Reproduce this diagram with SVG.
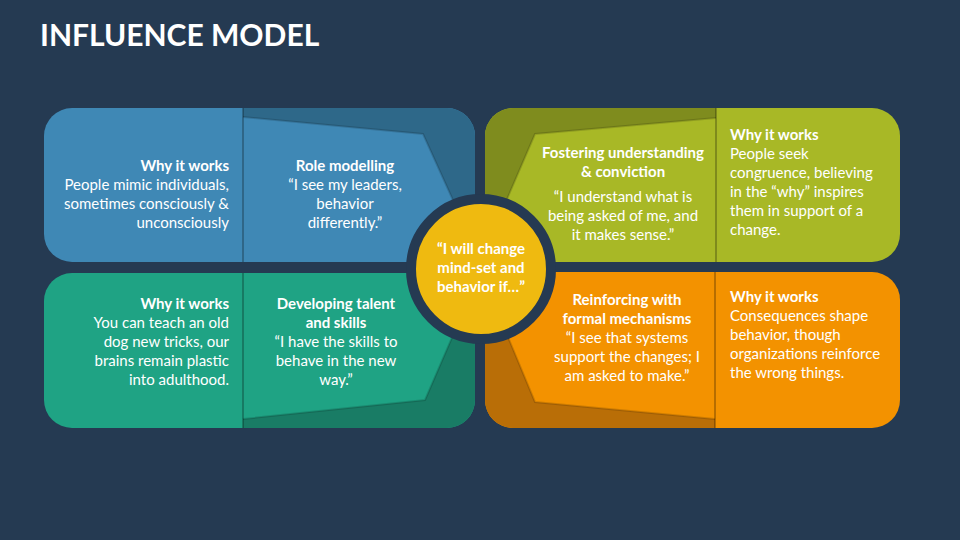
<svg xmlns="http://www.w3.org/2000/svg" width="960" height="540" viewBox="0 0 960 540">
<defs>
<style>
.t{font-family:Lato,"Open Sans","Liberation Sans",sans-serif;font-size:15px;fill:#fff}
.b{font-weight:bold}
.c{text-anchor:middle}
.r{text-anchor:end}
.div{stroke:#000;stroke-opacity:0.25;stroke-width:2}
.edge{fill:none;stroke:#000;stroke-opacity:0.15;stroke-width:2}
</style>
<clipPath id="cTL"><rect x="44" y="108" width="431" height="154" rx="28"/></clipPath>
<clipPath id="cTR"><rect x="485" y="108" width="415" height="154" rx="28"/></clipPath>
<clipPath id="cBL"><rect x="44" y="273" width="431" height="155" rx="28"/></clipPath>
<clipPath id="cBR"><rect x="485" y="272" width="415" height="156" rx="28"/></clipPath>
</defs>
<rect width="960" height="540" fill="#253a52"/>
<text x="40" y="46" font-family="Lato,'Open Sans','Liberation Sans',sans-serif" font-weight="bold" font-size="30" fill="#fff">INFLUENCE MODEL</text>

<g id="tl">
<g clip-path="url(#cTL)">
<rect x="44" y="108" width="431" height="154" fill="#3f88b5"/>
<polygon points="243,100 480,100 480,262 481,262 423,134 243,117" fill="#2e6889"/>
<polyline points="243,117 423,134 481,262" class="edge"/>
<line x1="243" y1="108" x2="243" y2="262" class="div"/>
</g>
<text class="t b r" x="229" y="171">Why it works</text>
<text class="t r" x="229" y="190">People mimic individuals,</text>
<text class="t r" x="229" y="209">sometimes consciously &amp;</text>
<text class="t r" x="229" y="228">unconsciously</text>
<text class="t b c" x="345" y="171">Role modelling</text>
<text class="t c" x="345" y="190">“I see my leaders,</text>
<text class="t c" x="345" y="209">behavior</text>
<text class="t c" x="345" y="228">differently.”</text>
</g>

<g id="tr">
<g clip-path="url(#cTR)">
<rect x="485" y="108" width="415" height="154" fill="#a8b826"/>
<polygon points="716,100 716,118 535,134 480,262 470,262 470,100" fill="#7f8c1e"/>
<polyline points="716,118 535,134 480,262" class="edge"/>
<line x1="716" y1="108" x2="716" y2="262" class="div"/>
</g>
<text class="t b c" x="623" y="158">Fostering understanding</text>
<text class="t b c" x="623" y="177">&amp; conviction</text>
<text class="t c" x="623" y="202">“I understand what is</text>
<text class="t c" x="623" y="221">being asked of me, and</text>
<text class="t c" x="623" y="240">it makes sense.”</text>
<text class="t b" x="730" y="140">Why it works</text>
<text class="t" x="730" y="159">People seek</text>
<text class="t" x="730" y="178">congruence, believing</text>
<text class="t" x="730" y="197">in the “why” inspires</text>
<text class="t" x="730" y="216">them in support of a</text>
<text class="t" x="730" y="235">change.</text>
</g>

<g id="bl">
<g clip-path="url(#cBL)">
<rect x="44" y="273" width="431" height="155" fill="#1fa384"/>
<polygon points="243,419 425,400 480,273 490,273 490,440 243,440" fill="#197c65"/>
<polyline points="243,419 425,400 480,273" class="edge"/>
<line x1="243" y1="273" x2="243" y2="428" class="div"/>
</g>
<text class="t b r" x="229" y="309">Why it works</text>
<text class="t r" x="229" y="328">You can teach an old</text>
<text class="t r" x="229" y="347">dog new tricks, our</text>
<text class="t r" x="229" y="366">brains remain plastic</text>
<text class="t r" x="229" y="385">into adulthood.</text>
<text class="t b c" x="336" y="309">Developing talent</text>
<text class="t b c" x="336" y="328">and skills</text>
<text class="t c" x="336" y="347">“I have the skills to</text>
<text class="t c" x="336" y="366">behave in the new</text>
<text class="t c" x="336" y="385">way.”</text>
</g>

<g id="br">
<g clip-path="url(#cBR)">
<rect x="485" y="272" width="415" height="156" fill="#f39200"/>
<polygon points="715,419 535,402 481,272 470,272 470,440 715,440" fill="#b96e07"/>
<polyline points="715,419 535,402 481,272" class="edge"/>
<line x1="715" y1="272" x2="715" y2="428" class="div"/>
</g>
<text class="t b c" x="627" y="305">Reinforcing with</text>
<text class="t b c" x="627" y="324">formal mechanisms</text>
<text class="t c" x="627" y="343">“I see that systems</text>
<text class="t c" x="627" y="362">support the changes; I</text>
<text class="t c" x="627" y="381">am asked to make.”</text>
<text class="t b" x="730" y="302">Why it works</text>
<text class="t" x="730" y="321">Consequences shape</text>
<text class="t" x="730" y="340">behavior, though</text>
<text class="t" x="730" y="359">organizations reinforce</text>
<text class="t" x="730" y="378">the wrong things.</text>
</g>

<g id="center">
<circle cx="481" cy="269" r="70" fill="#efba10" stroke="#253a52" stroke-width="10"/>
<text class="t b c" x="481" y="254">“I will change</text>
<text class="t b c" x="481" y="273">mind-set and</text>
<text class="t b c" x="481" y="292">behavior if…”</text>
</g>
</svg>
